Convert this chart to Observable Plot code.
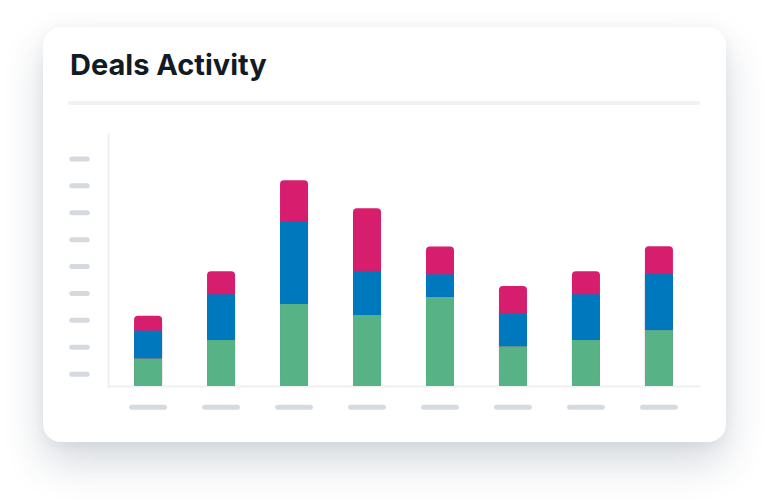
<!DOCTYPE html>
<html>
<head>
<meta charset="utf-8">
<script src="https://cdn.jsdelivr.net/npm/d3@7"></script>
<script src="https://cdn.jsdelivr.net/npm/@observablehq/plot@0.6"></script>
<style>
  html, body { margin: 0; padding: 0; background: #ffffff; width: 768px; height: 502px; overflow: hidden; }
  #card { position: absolute; left: 43px; top: 27px; width: 683px; height: 415px; background: #fff;
          border-radius: 18px; box-shadow: 0 20px 40px rgba(40, 60, 90, 0.2), 0 2px 12px rgba(40, 60, 90, 0.05); }
  #title { position: absolute; left: 70px; top: 50px; font-family: Inter, "Noto Sans", sans-serif; font-weight: 700;
           font-size: 29px; line-height: 29px; color: #101b25; white-space: nowrap; }
  #divider { position: absolute; left: 68px; top: 101px; width: 632px; height: 4px; background: #eff1f3; border-radius: 2px; }
  #chart { position: absolute; left: 0; top: 0; }
</style>
</head>
<body>
<div id="card"></div>
<div id="title">Deals Activity</div>
<div id="divider"></div>
<div id="chart"></div>
<script>
// Data (arbitrary units; no labels shown)
const categories = ["1", "2", "3", "4", "5", "6", "7", "8"];
const series = ["Won", "In progress", "Lost"];
const won        = [10.3, 17.1, 30.5, 26.4, 33.1, 14.8, 17.1, 20.8];
const inProgress = [10.3, 17.0, 30.6, 16.4,  8.4, 12.1, 17.0, 20.8];
const lost       = [ 5.5,  8.6, 15.4, 23.3, 10.4, 10.3,  8.6, 10.4];
const yTicks = [4.6, 14.6, 24.6, 34.6, 44.6, 54.6, 64.6, 74.6, 84.6];
const colors = ["#57b286", "#0078be", "#d71e6e"];

const long = [];
categories.forEach((c, i) => {
  long.push({cat: c, series: series[0], value: won[i]});
  long.push({cat: c, series: series[1], value: inProgress[i]});
});
const totals = categories.map((c, i) => ({cat: c, total: won[i] + inProgress[i] + lost[i]}));

const chart = Plot.plot({
  width: 768,
  height: 502,
  marginLeft: 108,
  marginRight: 69,
  marginTop: 134,
  marginBottom: 116,
  style: {background: "transparent", overflow: "visible"},
  x: {domain: categories, paddingInner: 0.616, paddingOuter: 0.357, round: false, axis: null},
  y: {domain: [0, 93.7], axis: null},
  color: {domain: series, range: colors},
  marks: [
    Plot.frame({anchor: "left", stroke: "#eef0f3", strokeWidth: 2, strokeOpacity: 1}),
    Plot.frame({anchor: "bottom", stroke: "#eef0f3", strokeWidth: 2, strokeOpacity: 1}),
    Plot.axisY({ticks: yTicks, tickSize: 15.4, tickPadding: 0, tickFormat: () => "", label: null,
                dx: -20.8, stroke: "#d5dae0", strokeWidth: 5, strokeLinecap: "round", strokeOpacity: 1}),
    Plot.tickY(categories, {x: d => d, y: () => 0, dy: 20.7, insetLeft: -2.35, insetRight: -2.35,
                            stroke: "#d5dae0", strokeWidth: 5, strokeLinecap: "round"}),
    // full bar in the top colour, rounded; lower segments drawn over it
    Plot.rectY(totals, {x: "cat", y: "total", fill: colors[2], rx: 4}),
    Plot.rectY(long, Plot.stackY({x: "cat", y: "value", fill: "series", order: series}))
  ]
});
document.getElementById("chart").appendChild(chart);
</script>
</body>
</html>
